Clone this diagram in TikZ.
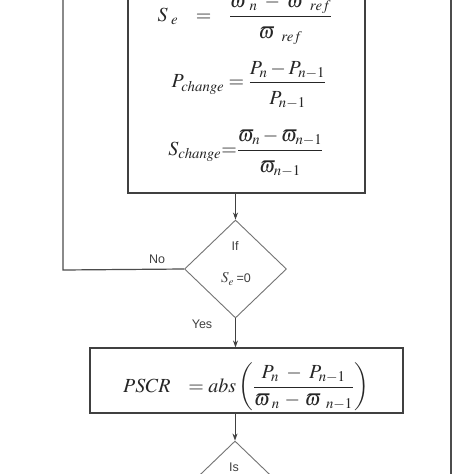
\documentclass[tikz,border=0pt]{standalone}
\usepackage{amsmath}
\usepackage{mathptmx}
\usepackage{fontspec}
\setsansfont{Liberation Sans}
\usetikzlibrary{shapes.geometric,arrows.meta}
\newcommand{\numstrut}{\rule[-6pt]{0pt}{6pt}}
\newcommand{\denstrut}{\rule{0pt}{19pt}}
\tikzset{
  boxline/.style={draw=black!75, line width=1.2pt},
  dialine/.style={draw=black!55, line width=0.9pt, shape=diamond, minimum width=102pt, minimum height=98pt, inner sep=0pt},
  flow/.style={draw=black!75, line width=0.8pt, -{Stealth[length=7pt,width=5pt]}},
  loopline/.style={draw=black!70, line width=1.2pt},
  lbl/.style={font=\sffamily\fontsize{12.5}{14}\selectfont, text=black!75, inner sep=0pt},
  eq/.style={font=\fontsize{20}{24}\selectfont, inner sep=0pt, text=black!85}
}
\begin{document}
\begin{tikzpicture}[x=1pt,y=-1pt]
\useasboundingbox (0,0) rectangle (474,474);
\clip (0,0) rectangle (474,474);
\fill[white] (0,0) rectangle (474,474);
% boxes
\node[boxline, minimum width=237pt, minimum height=253pt, inner sep=0pt] (box1) at (246.5,66.5) {};
\node[boxline, minimum width=313pt, minimum height=65pt, inner sep=0pt] (box2) at (246.5,380.5) {};
% diamonds
\node[dialine] (d1) at (235.5,269) {};
\node[dialine] (d2) at (235,490) {};
% formulas
\node[eq] (f1) at (245,20) {$S_{\;e}\;\;\;=\;\;\;\dfrac{\varpi_{\;\,n}\;-\;\varpi_{\;\;\,ref}\numstrut}{\varpi_{\;\;\,ref}\denstrut}$};
\node[eq] (f2) at (249,85) {$P_{change}=\dfrac{P_n-P_{n-1}\numstrut}{P_{n-1}\denstrut}$};
\node[eq] (f3) at (246,153) {$S_{change}{=}\dfrac{\varpi_n-\varpi_{n-1}\numstrut}{\varpi_{n-1}\denstrut}$};
\node[eq] (f4) at (246,387) {$PSCR\;\;\;=abs\left(\dfrac{P_n\;-\;P_{n-1}\rule[-3pt]{0pt}{3pt}}{\varpi_{\;n}\,-\,\varpi_{\;\;n-1}\rule{0pt}{16pt}}\right)$};
% diamond texts
\node[lbl] (if) at (235,246) {If};
\node[lbl] (cond) at (236,279) {\fontsize{15}{16}\selectfont$S_{e}$\,\fontsize{12.5}{14}\selectfont=0};
\node[lbl] (is) at (234,467) {Is};
\node[lbl] (no) at (157,259) {No};
\node[lbl] (yes) at (202,324) {Yes};
% connectors
\draw[flow] (d1.north |- box1.south) -- (d1.north);
\draw[flow] (d1.south) -- (d1.south |- box2.north);
\draw[flow] (d2.north |- box2.south) -- (d2.north);
\coordinate (lc) at (63,270);
\coordinate (lt) at (63,-20);
\draw[loopline] (d1.west) -- (lc) -- (lt);
\coordinate (rt) at (451,-20);
\coordinate (rb) at (451,494);
\draw[loopline] (rt) -- (rb);
\end{tikzpicture}
\end{document}
